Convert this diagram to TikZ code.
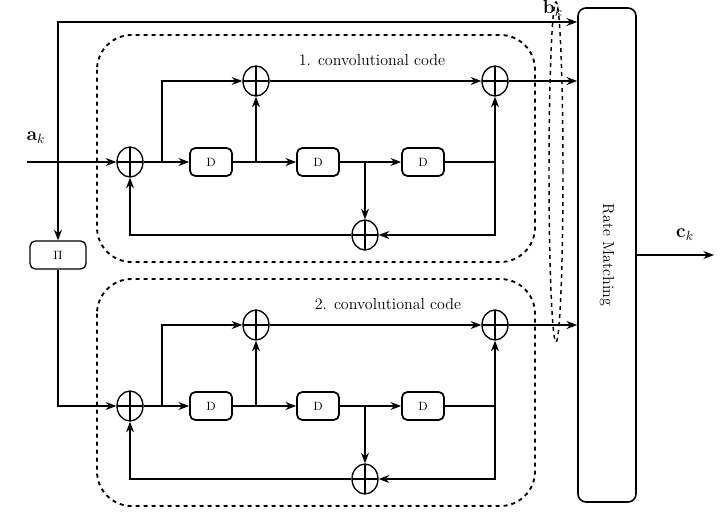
\documentclass[tikz,border=0pt]{standalone}
\usetikzlibrary{arrows.meta,shapes.geometric}
\begin{document}
\begin{tikzpicture}[x=0.75pt,y=-0.75pt,>={Stealth[length=8pt,width=6pt]},
  line width=0.9pt,
  add/.style={ellipse,draw,minimum width=26*0.75pt,minimum height=30*0.75pt,inner sep=0pt,line width=1pt,
    path picture={\draw (path picture bounding box.north)--(path picture bounding box.south)
      (path picture bounding box.west)--(path picture bounding box.east);}},
  reg/.style={draw,rounded corners=4pt,minimum width=42*0.75pt,minimum height=28*0.75pt,
    inner sep=0pt,font=\small,line width=1.3pt},
  grp/.style={draw,dashed,rounded corners=26pt,line width=1.4pt},
  lbl/.style={font=\large}]
\useasboundingbox (0,0) rectangle (721,521);
% rate matching
\node[draw,rounded corners=6pt,line width=1.2pt,minimum width=58*0.75pt,minimum height=494*0.75pt,inner sep=0pt] (rm) at (607,255) {};
\node[rotate=-90,font=\large] at (rm) {Rate Matching};
\coordinate (out) at (714,255);
\draw[->] (rm.east|-out) -- (out);
\node[font=\Large] at (685,235) {$\mathbf{c}_k$};
% input
\coordinate (in) at (27,162);
\coordinate (tap) at (58,162);
\coordinate (top) at (58,22);
\node[font=\Large] at (36,138) {$\mathbf{a}_k$};
\node[reg,minimum width=56*0.75pt,minimum height=28*0.75pt,line width=1pt] (pi) at (58,255) {$\Pi$};
\draw[->] (tap) -- (top) -- (top-|rm.west);
\draw[->] (tap) -- (pi.north);
\coordinate (bend) at (58,406);
% encoders
\foreach \o/\n/\lx in {0/1/372,244/2/388}{
  \begin{scope}[yshift=-\o*0.75pt]
  \draw[grp] (97,35) rectangle (535,262);
  \node[lbl] at (\lx,60) {\n. convolutional code};
  \node[add] (a\n) at (130,162) {};
  \node[add] (b\n) at (256,81) {};
  \node[add] (e\n) at (495,81) {};
  \node[add] (c\n) at (365,235) {};
  \node[reg] (d1\n) at (211,162) {D};
  \node[reg] (d2\n) at (318,162) {D};
  \node[reg] (d3\n) at (423,162) {D};
  \coordinate (p\n) at (162,162);
  \coordinate (q\n) at (256,162);
  \coordinate (r\n) at (365,162);
  \coordinate (s\n) at (495,162);
  \coordinate (t\n) at (495,235);
  \coordinate (u\n) at (130,235);
  \draw[->] (a\n) -- (d1\n);
  \draw[->] (p\n) |- (b\n);
  \draw[->] (d1\n) -- (d2\n);
  \draw[->] (q\n) -- (b\n);
  \draw[->] (d2\n) -- (d3\n);
  \draw[->] (r\n) -- (c\n);
  \draw (d3\n) -- (s\n);
  \draw[->] (s\n) -- (e\n);
  \draw[->] (s\n) -- (t\n) -- (c\n);
  \draw[->] (c\n) -- (u\n) -- (a\n);
  \draw[->] (b\n) -- (e\n);
  \draw[->] (e\n) -- (e\n-|rm.west);
  \end{scope}}
\draw[->] (in) -- (a1);
\draw[->] (pi.south) -- (bend) -- (a2);
% b_k group
\draw[dashed,line width=1.1pt] (556,172) ellipse (7*0.75pt and 170*0.75pt);
\node[font=\Large] at (553,8) {$\mathbf{b}_k$};
\end{tikzpicture}
\end{document}
